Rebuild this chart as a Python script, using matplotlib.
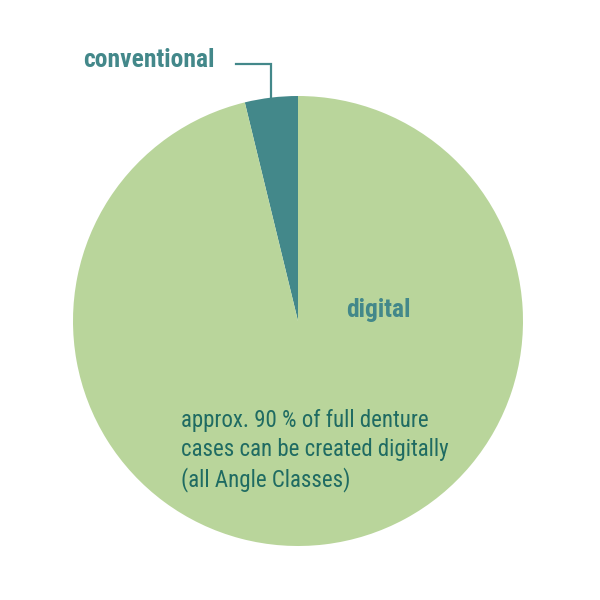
import numpy as np
import matplotlib
matplotlib.use("Agg")
import matplotlib.pyplot as plt

labels = ["conventional", "digital"]
values = [3.8, 96.2]
colors = ["#43888a", "#b9d59b"]
note = "approx. 90 % of full denture\ncases can be created digitally\n(all Angle Classes)"

FONT = ["Roboto Condensed", "DejaVu Sans"]

fig = plt.figure(figsize=(6, 6), dpi=100)
ax = fig.add_axes([73/600, 54/600, 450/600, 450/600])
wedges, _ = ax.pie(values, colors=colors, startangle=90, counterclock=True,
                   radius=1, wedgeprops=dict(linewidth=0))
ax.set_xlim(-1, 1)
ax.set_ylim(-1, 1)
ax.set_aspect("equal")
ax.axis("off")

# leader line for conventional wedge
w = wedges[0]
mid = np.deg2rad((w.theta1 + w.theta2) / 2)
x0, y0 = np.cos(mid), np.sin(mid)
ax.plot([x0, x0, x0 - 0.155], [y0, 1.142, 1.142], color="#43888a", lw=1.6,
        clip_on=False, solid_joinstyle="miter")
ax.text(-0.369, 1.16, labels[0], ha="right", va="center", fontsize=18.4,
        fontweight="bold", color="#43888a", family=FONT)

ax.text(0.356, 0.05, labels[1], ha="center", va="center", fontsize=18.4,
        fontweight="bold", color="#43888a", family=FONT)

ax.text(-0.52, -0.575, note, ha="left", va="center", fontsize=16.5,
        color="#1f6b62", family=FONT, linespacing=1.32)

fig.savefig("out.png", dpi=100)
